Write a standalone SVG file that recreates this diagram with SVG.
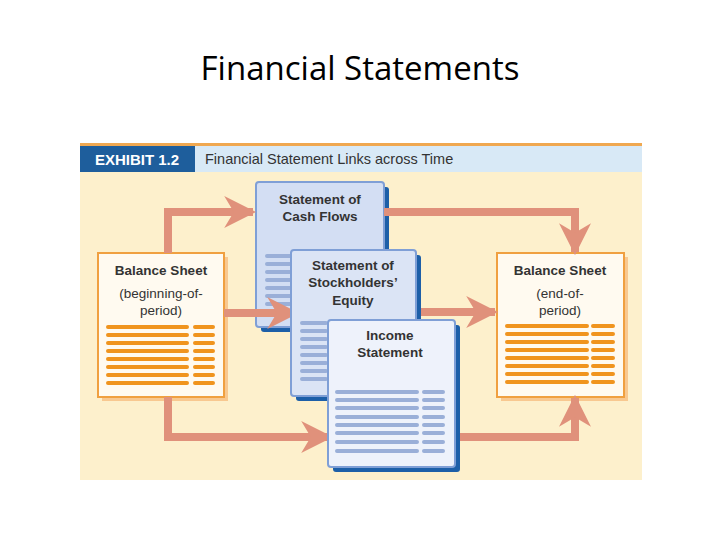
<svg xmlns="http://www.w3.org/2000/svg" width="720" height="540" viewBox="0 0 720 540">
<defs>
<style>
.t{font-family:"Liberation Sans",Arial,sans-serif;font-weight:bold;font-size:13.5px;fill:#333;text-anchor:middle}
.n{font-family:"Liberation Sans",Arial,sans-serif;font-size:13.5px;fill:#333;text-anchor:middle}
.c{fill:none;stroke:#e0917b;stroke-width:8}
.ol{stroke:#f0941e;stroke-width:4;stroke-linecap:round}
.bl{stroke:#9aafd8;stroke-width:4;stroke-linecap:round}
</style>
<marker id="ah" viewBox="0 0 10 10" refX="9" refY="5" markerWidth="4" markerHeight="4" orient="auto" markerUnits="strokeWidth">
<path d="M0,0 L10,5 L0,10 L3,5 Z" fill="#e0917b"/>
</marker>
</defs>
<rect width="720" height="540" fill="#fff"/>
<text x="360" y="80" font-family="'Open Sans','Liberation Sans',sans-serif" font-size="33" text-anchor="middle" fill="#000">Financial Statements</text>
<rect x="80" y="143" width="562" height="337" fill="#fdf0cc"/>
<rect x="80" y="143" width="562" height="3" fill="#f0a850"/>
<rect x="195" y="146" width="447" height="26" fill="#d8e9f6"/>
<rect x="80" y="146" width="115" height="26" fill="#1e5e9c"/>
<text x="137" y="165" font-family="'Liberation Sans',Arial,sans-serif" font-weight="bold" font-size="15" fill="#fff" text-anchor="middle">EXHIBIT 1.2</text>
<text x="205" y="164" font-family="'Liberation Sans',Arial,sans-serif" font-size="14.5" fill="#333">Financial Statement Links across Time</text>

<g id="bs-begin">
<rect x="102" y="257" width="126" height="144" fill="#f8c890"/>
<rect x="98" y="253" width="126" height="144" fill="#fffaf0" stroke="#f0a040" stroke-width="2"/>
<text class="t" x="161" y="275">Balance Sheet</text>
<text class="n" x="161" y="298">(beginning-of-</text>
<text class="n" x="161" y="315">period)</text>
<g class="ol">
<path d="M108,327H187M195,327H213M108,335H187M195,335H213M108,343H187M195,343H213M108,351H187M195,351H213M108,359H187M195,359H213M108,367H187M195,367H213M108,375H187M195,375H213M108,383H187M195,383H213"/>
</g>
</g>

<g id="bs-end">
<rect x="501" y="257" width="127" height="144" fill="#f8c890"/>
<rect x="497" y="253" width="127" height="144" fill="#fffaf0" stroke="#f0a040" stroke-width="2"/>
<text class="t" x="560" y="275">Balance Sheet</text>
<text class="n" x="560" y="298">(end-of-</text>
<text class="n" x="560" y="315">period)</text>
<g class="ol">
<path d="M507,326H587M593,326H613M507,334H587M593,334H613M507,342H587M593,342H613M507,350H587M593,350H613M507,358H587M593,358H613M507,366H587M593,366H613M507,374H587M593,374H613M507,382H587M593,382H613"/>
</g>
</g>

<g id="cash-flows">
<rect x="261" y="187" width="128" height="145" rx="3" fill="#1d5fa8"/>
<rect x="256" y="182" width="128" height="145" rx="3" fill="#d3def3" stroke="#7f9fd6" stroke-width="2"/>
<text class="t" x="320" y="204">Statement of</text>
<text class="t" x="320" y="221">Cash Flows</text>
<path class="bl" d="M267,256H290M267,264H290M267,272H290M267,280H290M267,288H290M267,296H290M267,304H290M267,312H290"/>
</g>

<g id="connectors">
<path class="c" d="M168,253 V212 H253" marker-end="url(#ah)"/>
<path class="c" d="M224,313 H296" marker-end="url(#ah)"/>
<path class="c" d="M168,397 V437 H330" marker-end="url(#ah)"/>
<path class="c" d="M384,212 H575 V252" marker-end="url(#ah)"/>
<path class="c" d="M416,312 H495" marker-end="url(#ah)"/>
<path class="c" d="M455,437 H575 V398" marker-end="url(#ah)"/>
</g>

<g id="equity">
<rect x="296" y="255" width="125" height="146" rx="3" fill="#1d5fa8"/>
<rect x="291" y="250" width="125" height="146" rx="3" fill="#dbe4f5" stroke="#7f9fd6" stroke-width="2"/>
<text class="t" x="353" y="270">Statement of</text>
<text class="t" x="353" y="287">Stockholders’</text>
<text class="t" x="353" y="305">Equity</text>
<path class="bl" d="M302,323H326M302,331H326M302,339H326M302,347H326M302,355H326M302,363H326M302,371H326M302,379H326"/>
</g>

<g id="income">
<rect x="333" y="325" width="127" height="147" rx="3" fill="#1d5fa8"/>
<rect x="328" y="320" width="127" height="147" rx="3" fill="#eef2fb" stroke="#7f9fd6" stroke-width="2"/>
<text class="t" x="390" y="340">Income</text>
<text class="t" x="390" y="357">Statement</text>
<path class="bl" d="M337,392H417M424,392H443M337,400H417M424,400H443M337,408H417M424,408H443M337,417H417M424,417H443M337,425H417M424,425H443M337,433H417M424,433H443M337,442H417M424,442H443M337,451H417M424,451H443"/>
</g>
</svg>
